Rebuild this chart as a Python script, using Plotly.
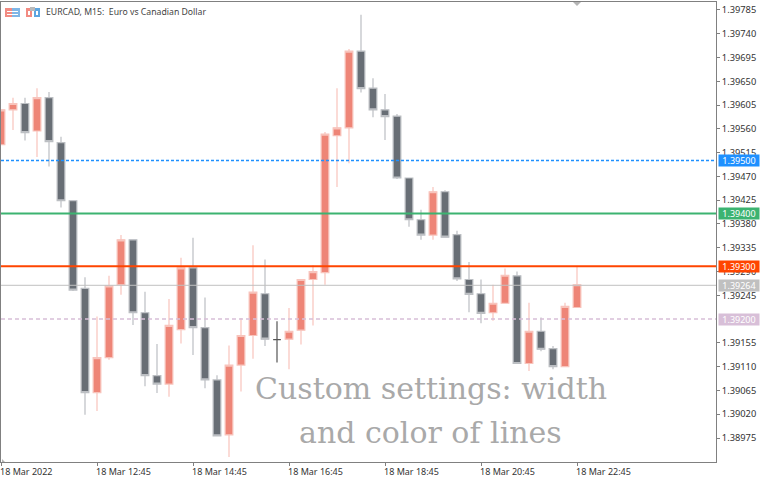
import pandas as pd
import plotly.graph_objects as go

start = "2022-03-18 10:45"
opens  = [1.39530,1.39596,1.39608,1.39556,1.39619,1.39534,1.39424,1.39258,1.39061,1.39127,1.39265,1.39350,1.39212,1.39093,1.39077,1.39180,1.39297,1.39184,1.39085,1.38981,1.39113,1.39169,1.39248,1.39161,1.39162,1.39179,1.39275,1.39288,1.39547,1.39562,1.39707,1.39637,1.39596,1.39584,1.39467,1.39388,1.39359,1.39441,1.39360,1.39275,1.39248,1.39212,1.39230,1.39282,1.39116,1.39177,1.39144,1.39110,1.39222]
closes = [1.39596,1.39608,1.39553,1.39619,1.39536,1.39424,1.39255,1.39061,1.39127,1.39263,1.39350,1.39212,1.39093,1.39077,1.39188,1.39297,1.39184,1.39085,1.38979,1.39113,1.39169,1.39251,1.39162,1.39161,1.39177,1.39275,1.39290,1.39550,1.39562,1.39707,1.39636,1.39596,1.39583,1.39467,1.39388,1.39359,1.39441,1.39355,1.39276,1.39247,1.39211,1.39230,1.39283,1.39116,1.39177,1.39143,1.39110,1.39224,1.39265]
highs  = [1.39596,1.39619,1.39619,1.39637,1.39630,1.39545,1.39424,1.39279,1.39205,1.39282,1.39359,1.39350,1.39252,1.39153,1.39238,1.39316,1.39354,1.39241,1.39094,1.39150,1.39202,1.39340,1.39313,1.39196,1.39221,1.39275,1.39302,1.39554,1.39637,1.39711,1.39776,1.39656,1.39626,1.39588,1.39468,1.39407,1.39450,1.39444,1.39367,1.39308,1.39275,1.39265,1.39296,1.39290,1.39231,1.39203,1.39149,1.39231,1.39299]
lows   = [1.39530,1.39558,1.39538,1.39507,1.39489,1.39411,1.39253,1.39019,1.39026,1.39123,1.39246,1.39189,1.39073,1.39060,1.39053,1.39154,1.39132,1.39069,1.38978,1.38939,1.39063,1.39125,1.39149,1.39118,1.39105,1.39152,1.39188,1.39265,1.39450,1.39495,1.39629,1.39582,1.39539,1.39465,1.39375,1.39350,1.39350,1.39354,1.39272,1.39213,1.39192,1.39197,1.39230,1.39116,1.39102,1.39139,1.39105,1.39110,1.39222]
level_prices = [1.39500,1.39400,1.39300,1.39264,1.39200]
level_labels = ["1.39500","1.39400","1.39300","1.39264","1.39200"]
level_colors = ["#1e90ff","#3cb371","#ff4500","#c0c0c0","#d8bfd8"]
level_widths = [1.5,2,2,1,1.5]
level_dashes = ["3px,2px","solid","solid","solid","4px,3px"]
y_ticks = [1.39785,1.39740,1.39695,1.39650,1.39605,1.39560,1.39515,1.39470,1.39425,1.39380,1.39335,1.39290,1.39245,1.39155,1.39110,1.39065,1.39020,1.38975]
x_ticks = ["2022-03-18 10:45","2022-03-18 12:45","2022-03-18 14:45","2022-03-18 16:45","2022-03-18 18:45","2022-03-18 20:45","2022-03-18 22:45"]
x_labels = ["18 Mar 2022","18 Mar 12:45","18 Mar 14:45","18 Mar 16:45","18 Mar 18:45","18 Mar 20:45","18 Mar 22:45"]
title = "EURCAD, M15:  Euro vs Canadian Dollar"
caption = ["Custom settings: width","and color of lines"]

FONT = "Noto Sans"
times = pd.date_range(start, periods=len(opens), freq="15min")
df = pd.DataFrame(dict(t=times,o=opens,h=highs,l=lows,c=closes))

def candle(d, fill, edge):
    return go.Candlestick(x=d.t,open=d.o,high=d.h,low=d.l,close=d.c,
        increasing=dict(fillcolor=fill,line=dict(color=edge,width=1.2)),
        decreasing=dict(fillcolor=fill,line=dict(color=edge,width=1.2)),
        whiskerwidth=0,showlegend=False,hoverinfo="skip")

fig = go.Figure()
fig.add_trace(candle(df[df.c>df.o],"#ee8577","#f8c4bc"))
fig.add_trace(candle(df[df.c<df.o],"#686e75","#bcbfc3"))
fig.add_trace(candle(df[df.c==df.o],"#555555","#555555"))

shapes=[]
annots=[]
for p,lab,col,w,ds in zip(level_prices,level_labels,level_colors,level_widths,level_dashes):
    shapes.append(dict(type="line",xref="paper",x0=0,x1=1,yref="y",y0=p,y1=p,line=dict(color=col,width=w,dash=ds)))
    annots.append(dict(xref="paper",x=1,yref="y",y=p,text=lab,showarrow=False,xanchor="left",xshift=2,
        bgcolor=col,font=dict(family=FONT,size=9,color="#ffffff"),borderpad=0,width=40,height=11,align="center"))
for t,lab in zip(x_ticks,x_labels):
    annots.append(dict(xref="x",x=t,yref="paper",y=0,yshift=-2,text=lab,showarrow=False,xanchor="left",yanchor="top",xshift=-2,
        font=dict(family=FONT,size=9,color="#333333"),borderpad=0))
annots.append(dict(xref="paper",x=0,xshift=44,yref="paper",y=1,yshift=-3,text=title,showarrow=False,xanchor="left",yanchor="top",
    font=dict(family=FONT,size=8.7,color="#444444"),borderpad=0))
for ln,yy in zip(caption,[388,432]):
    annots.append(dict(xref="paper",x=(431-1)/715,yref="paper",y=1-(yy-2)/460,text=ln,showarrow=False,xanchor="center",yanchor="middle",
        font=dict(family="DejaVu Serif",size=30,color="#a9a9a9"),borderpad=0))
# toolbar icons
def px(x): return (x-1)/715
def py(y): return 1-(y-2)/460
for x0,x1,y0,y1,c in [(5,12,8,17,"#f28b82"),(12,20,8,17,"#7fb6e6"),(26,32,8,17,"#f28b82"),(34,40,8,17,"#5ca5e0"),
                      (30,35,7,11,"#b9b9b9"),
                      (7,18,11,12,"#ffffff"),(7,18,14,15,"#ffffff"),(28,30,11,15,"#ffffff"),(36,38,11,15,"#ffffff")]:
    shapes.append(dict(type="rect",xref="paper",yref="paper",x0=px(x0),x1=px(x1),y0=py(y0),y1=py(y1),line=dict(width=0),fillcolor=c))
shapes.append(dict(type="path",xref="paper",yref="paper",path=f"M {px(573)} {py(2)} L {px(581)} {py(2)} L {px(577)} {py(6)} Z",fillcolor="#b5b5b5",line=dict(width=0)))
shapes.append(dict(type="path",xref="paper",yref="paper",path=f"M {px(2)} {py(462)} L {px(5)} {py(462)} L {px(2)} {py(459)} Z",fillcolor="#b5b5b5",line=dict(width=0)))

fig.update_layout(width=768,height=480,autosize=False,margin=dict(l=1,r=52,t=2,b=18),
    paper_bgcolor="#ffffff",plot_bgcolor="#ffffff",boxgap=0.08,shapes=shapes,annotations=annots,
    font=dict(family=FONT,size=9,color="#333333"),showlegend=False)
fig.update_xaxes(type="date",range=["2022-03-18 10:45","2022-03-19 01:38:45"],rangeslider_visible=False,
    tickvals=x_ticks,ticktext=[""]*len(x_ticks),ticks="outside",ticklen=3,tickcolor="#808080",showgrid=False,zeroline=False,
    showline=True,linecolor="#808080",linewidth=1,mirror=True)
fig.update_yaxes(side="right",range=[1.389296,1.398001],tickvals=y_ticks,ticktext=[f"{v:.5f}" for v in y_ticks],
    ticks="outside",ticklen=3,tickcolor="#808080",tickfont=dict(family=FONT,size=9.3,color="#333333"),showgrid=False,zeroline=False,
    showline=True,linecolor="#808080",linewidth=1,mirror=True)
fig.write_html("out.html",config={"displayModeBar":False},post_script="document.body.style.margin='0';document.documentElement.style.overflow='hidden';window.dispatchEvent(new Event('resize'));")
